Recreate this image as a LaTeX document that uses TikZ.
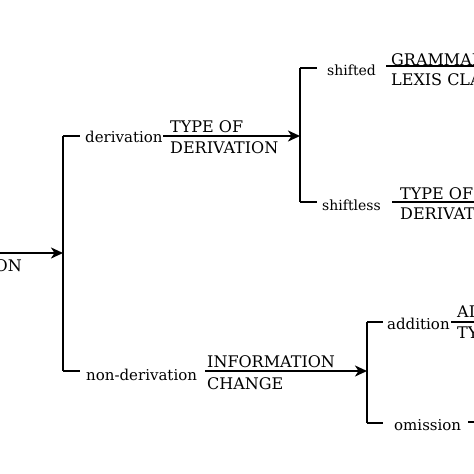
\documentclass[tikz,border=0pt]{standalone}
\usepackage{fontspec}
\setmainfont{DejaVu Serif}
\usetikzlibrary{arrows.meta}
\begin{document}
\begin{tikzpicture}[x=1pt,y=-1pt,
  lbl/.style={inner sep=0pt, anchor=base west, font=\fontsize{15}{18}\selectfont},
  small/.style={lbl, font=\fontsize{14}{17}\selectfont},
  captext/.style={inner sep=0pt, anchor=base west, font=\fontsize{16}{19}\selectfont},
  wire/.style={line width=1.9pt},
  arr/.style={wire, -{Stealth[length=12pt,width=11pt,inset=3.5pt]}}]
\useasboundingbox (0,0) rectangle (474,474);
\clip (0,0) rectangle (474,474);
% root
\coordinate (root) at (-10,253);
\node[captext, anchor=base east] (rootlbl) at (22,271) {ON};
\coordinate (s1) at (63,253);
\draw[arr] (root) -- (s1);
\coordinate (s1t) at (63,136);
\coordinate (s1b) at (63,371);
\draw[wire] (s1t) -- (s1b);
% derivation
\coordinate (d1) at (80,136);
\draw[wire] (s1t) -- (d1);
\node[lbl] (deriv) at (85,142) {derivation};
\coordinate (f1) at (163,136);
\coordinate (s2) at (300,136);
\draw[arr] (f1) -- (s2);
\node[captext] (typeA) at (170,132) {TYPE OF};
\node[captext] (derA) at (170,153) {DERIVATION};
% second split
\coordinate (s2t) at (300,68);
\coordinate (s2b) at (300,202);
\draw[wire] (s2t) -- (s2b);
\coordinate (d2) at (317,68);
\draw[wire] (s2t) -- (d2);
\node[small] (shifted) at (327,75) {shifted};
\coordinate (f2a) at (386,66);
\coordinate (f2b) at (480,66);
\draw[wire] (f2a) -- (f2b);
\node[captext] (gram) at (391,65) {GRAMMAR};
\node[captext] (lexis) at (391,85) {LEXIS CLASS};
\coordinate (d3) at (317,202);
\draw[wire] (s2b) -- (d3);
\node[small] (shiftless) at (322,210) {shiftless};
\coordinate (f3a) at (392,202);
\coordinate (f3b) at (480,202);
\draw[wire] (f3a) -- (f3b);
\node[captext] (typeB) at (400,199) {TYPE OF};
\node[captext] (derB) at (400,219) {DERIVATION};
% non-derivation
\coordinate (d4) at (80,371);
\draw[wire] (s1b) -- (d4);
\node[lbl] (nonderiv) at (86,380) {non-derivation};
\coordinate (f4) at (205,371);
\coordinate (s3) at (367,371);
\draw[arr] (f4) -- (s3);
\node[captext] (info) at (207,367) {INFORMATION};
\node[captext] (change) at (207,389) {CHANGE};
% third split
\coordinate (s3t) at (367,322);
\coordinate (s3b) at (367,423);
\draw[wire] (s3t) -- (s3b);
\coordinate (d5) at (383,322);
\draw[wire] (s3t) -- (d5);
\node[lbl] (addition) at (387,329) {addition};
\coordinate (f5a) at (451,322);
\coordinate (f5b) at (480,322);
\draw[wire] (f5a) -- (f5b);
\node[captext] (addA) at (457,317) {AIM};
\node[captext] (addT) at (457,338) {TYPE};
\coordinate (d6) at (383,423);
\draw[wire] (s3b) -- (d6);
\node[lbl] (omission) at (394,430) {omission};
\coordinate (f6a) at (468,422);
\coordinate (f6b) at (480,422);
\draw[wire] (f6a) -- (f6b);
\end{tikzpicture}
\end{document}
